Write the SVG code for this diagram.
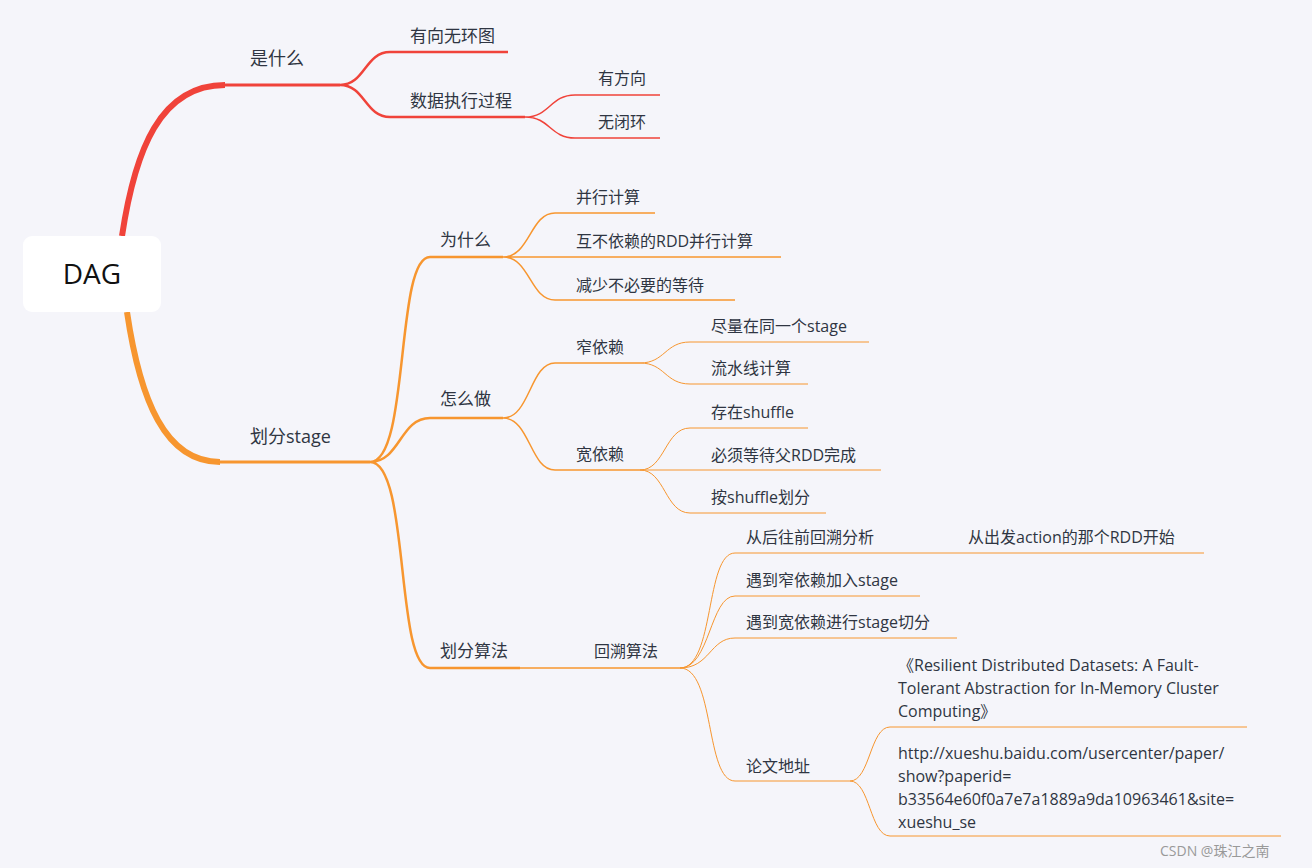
<svg xmlns="http://www.w3.org/2000/svg" width="1312" height="868" viewBox="0 0 1312 868">
<style>
text{font-family:"Open Sans","Noto Sans CJK SC",sans-serif;fill:#2f3542}
.t1{font-size:18px}.t2{font-size:17px}.t3{font-size:16px}
.r{fill:none;stroke:#f0433a}.o{fill:none;stroke:#f7962f}
</style>
<rect width="1312" height="868" fill="#f5f5fa"/>
<g id="connectors">
<path class="r" stroke-width="6" d="M122,236 C135,150 160,85 225,85"/>
<path class="r" stroke-width="3" d="M225,85 H340"/>
<path class="r" stroke-width="2.5" d="M340,85 C365,85 365,52 390,52 H508 M340,85 C365,85 365,117 390,117 H525"/>
<path class="r" stroke-width="1.5" d="M525,117 C550,117 550,95 575,95 H660 M525,117 C550,117 550,138 575,138 H660"/>
<path class="o" stroke-width="6" d="M127,312 C140,400 165,462 220,462"/>
<path class="o" stroke-width="3" d="M220,462 H370"/>
<path class="o" stroke-width="2.5" d="M370,462 C410,462 395,257 430,257 H503 M370,462 C400,462 400,418 430,418 H503 M370,462 C410,462 395,668 430,668 H520"/>
<path class="o" stroke-width="1.5" d="M503,257 C530,257 530,213 555,213 H655 M503,257 H781 M503,257 C530,257 530,300 555,300 H735 M503,418 C530,418 530,363 555,363 H640 M503,418 C530,418 530,470 555,470 H640 M520,668 H680"/>
<path class="o" stroke-width="1" d="M640,363 C665,363 665,342 690,342 H869 M640,363 C665,363 665,384 690,384 H808 M640,470 C665,470 665,428 690,428 H808 M640,470 H881 M640,470 C665,470 665,513 690,513 H826 M680,668 C715,668 705,553 735,553 H1204 M680,668 C710,668 710,596 735,596 H920 M680,668 C710,668 710,638 735,638 H957 M680,668 C715,668 705,781 735,781 H850 M850,781 C870,781 870,727 890,727 H1247 M850,781 C870,781 870,836 890,836 H1281"/>
</g>
<g id="root"><rect x="23" y="236" width="138" height="76" rx="9" fill="#fff"/><text x="92" y="284" text-anchor="middle" style="font-size:28px;fill:#111">DAG</text></g>
<g id="n1"><text class="t1" x="250" y="65">是什么</text></g>
<g id="n2"><text class="t2" x="410" y="42">有向无环图</text></g>
<g id="n3"><text class="t2" x="410" y="107">数据执行过程</text></g>
<g id="n4"><text class="t3" x="598" y="84">有方向</text></g>
<g id="n5"><text class="t3" x="598" y="128">无闭环</text></g>
<g id="n6"><text class="t1" x="250" y="443">划分stage</text></g>
<g id="n7"><text class="t2" x="440" y="246">为什么</text></g>
<g id="n8"><text class="t3" x="576" y="203">并行计算</text></g>
<g id="n9"><text class="t3" x="576" y="247">互不依赖的RDD并行计算</text></g>
<g id="n10"><text class="t3" x="576" y="291">减少不必要的等待</text></g>
<g id="n11"><text class="t2" x="440" y="405">怎么做</text></g>
<g id="n12"><text class="t3" x="576" y="353">窄依赖</text></g>
<g id="n13"><text class="t3" x="711" y="332">尽量在同一个stage</text></g>
<g id="n14"><text class="t3" x="711" y="374">流水线计算</text></g>
<g id="n15"><text class="t3" x="576" y="460">宽依赖</text></g>
<g id="n16"><text class="t3" x="711" y="418">存在shuffle</text></g>
<g id="n17"><text class="t3" x="711" y="461">必须等待父RDD完成</text></g>
<g id="n18"><text class="t3" x="711" y="503">按shuffle划分</text></g>
<g id="n19"><text class="t2" x="440" y="657">划分算法</text></g>
<g id="n20"><text class="t3" x="594" y="657">回溯算法</text></g>
<g id="n21"><text class="t3" x="746" y="543">从后往前回溯分析</text></g>
<g id="n22"><text class="t3" x="968" y="543">从出发action的那个RDD开始</text></g>
<g id="n23"><text class="t3" x="746" y="586">遇到窄依赖加入stage</text></g>
<g id="n24"><text class="t3" x="746" y="628">遇到宽依赖进行stage切分</text></g>
<g id="n25"><text class="t3" x="746" y="772">论文地址</text></g>
<g id="n26"><text class="t3" x="898" y="671">《Resilient Distributed Datasets: A Fault-</text><text class="t3" x="898" y="694">Tolerant Abstraction for In-Memory Cluster</text><text class="t3" x="898" y="717">Computing》</text></g>
<g id="n27"><text class="t3" x="898" y="759">http://xueshu.baidu.com/usercenter/paper/</text><text class="t3" x="898" y="782">show?paperid=</text><text class="t3" x="898" y="805">b33564e60f0a7e7a1889a9da10963461&amp;site=</text><text class="t3" x="898" y="828">xueshu_se</text></g>
<text x="1160" y="856" style="font-size:14px;fill:#999">CSDN @珠江之南</text>
</svg>
